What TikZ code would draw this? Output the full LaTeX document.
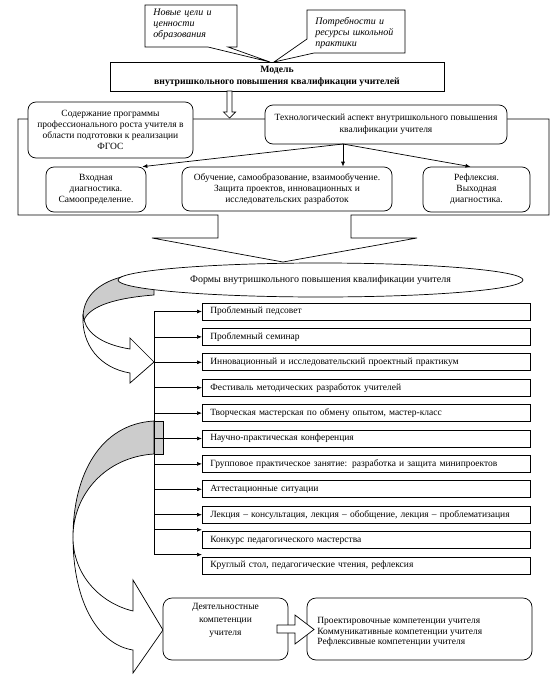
\documentclass[tikz,border=0pt]{standalone}
\usepackage{fontspec}
\setmainfont{Liberation Serif}
\usetikzlibrary{shapes.geometric,arrows.meta,positioning}

\begin{document}
\begin{tikzpicture}[x=1pt,y=-1pt,line width=0.7pt,
    txt/.style={font=\fontsize{9.5}{11}\selectfont},
    rbox/.style={draw, fill=white, rounded corners=8pt, align=center, inner sep=2pt, txt},
    calltxt/.style={align=left, text width=78pt, inner sep=0pt, font=\fontsize{10}{11}\selectfont\itshape},
    fbox/.style={draw, fill=white, anchor=west, text width=312pt, inner xsep=8pt, minimum height=17pt, inner ysep=0pt, align=left, txt},
    arr/.style={-{Latex[length=5pt,width=4pt]}},
    band/.style={draw, fill=black!20},
    hollow/.style={draw, fill=white}]
    \useasboundingbox (0,0) rectangle (555,675);

    % Big frame with the arrow down
    \draw (18,119) -- (549,119) -- (549,215) -- (351,215) -- (351,238) -- (417,238) -- (283,262)
          -- (152,238) -- (218,238) -- (218,215) -- (18,215) -- cycle;

    % Model and callouts
    \node[draw, fill=white, minimum width=334pt, minimum height=29pt, inner sep=0pt, align=center,
          font=\fontsize{9.7}{12}\selectfont\bfseries] (model) at (277,76.5)
          {Модель\\внутришкольного повышения квалификации учителей};
    \coordinate (tipA) at (270,62);
    \coordinate (tipB) at (274,62);
    \draw[fill=white] (145,5) -- (237,5) -- (237,47) -- (228,47) -- (tipA) -- (208,47) -- (145,47) -- cycle;
    \node[calltxt, anchor=north west] (goals) at (153,9) {Новые цели и\\ценности\\образования};
    \draw[fill=white] (307,10) -- (405,10) -- (405,53) -- (314,53) -- (tipB) -- (307,39) -- cycle;
    \node[calltxt, anchor=north west] (needs) at (315,17) {Потребности и\\ресурсы школьной\\практики};
    \draw[hollow] (227,91) -- (227,112) -- (223.5,112) -- (229.5,118) -- (235.5,112) -- (232,112) -- (232,91) -- cycle;

    % Content and technology
    \node[rbox, minimum width=165pt, minimum height=56pt] (content) at (110.5,130)
          {Содержание программы\\профессионального роста учителя в\\области подготовки к реализации\\ФГОС};
    \node[rbox, minimum width=242pt, minimum height=39pt, font=\fontsize{9.5}{12.5}\selectfont] (tech) at (386,124.5)
          {Технологический аспект внутришкольного повышения\\квалификации учителя};
    \node[rbox, minimum width=100pt, minimum height=45pt] (vhod) at (96,189.5)
          {Входная\\диагностика.\\Самоопределение.};
    \node[rbox, minimum width=210pt, minimum height=44pt] (obuch) at (287,189)
          {Обучение, самообразование, взаимообучение.\\Защита проектов, инновационных и\\исследовательских разработок};
    \node[rbox, minimum width=107pt, minimum height=45pt] (refl) at (476.5,189.5)
          {Рефлексия.\\Выходная\\диагностика.};
    \coordinate (fork) at (343,144);
    \draw[arr] (fork) -- ([xshift=-4pt]vhod.north east);
    \draw[arr] (fork) -- (fork |- obuch.north);
    \draw[arr] (fork) -- ([xshift=-6pt]refl.north);

    % Upper curved arrow
    \draw[band] (83,316) .. controls (84,295) and (100,282) .. (125,276) -- (154,276) -- (154,295)
          .. controls (115,298) and (90,306) .. (84,320) -- cycle;
    \draw[hollow] (83,314) .. controls (81,345) and (100,368) .. (130,373) -- (130,383) -- (154,362)
          -- (130,338) -- (130,349) .. controls (105,345) and (88,335) .. (84,320) -- cycle;

    % Forms
    \node[draw, fill=white, ellipse, minimum width=405pt, minimum height=34pt, inner sep=0pt,
          font=\fontsize{10}{12}\selectfont] (formy) at (320.5,280)
          {Формы внутришкольного повышения квалификации учителя};

    % Lower curved arrow
    \draw[band] (154,421) .. controls (100,424) and (73,475) .. (73,537)
          .. controls (73,495) and (105,457) .. (154,454) -- cycle;
    \draw[band] (154,421) rectangle (163,454);
    \draw[hollow] (73,537) .. controls (73,575) and (100,603) .. (133,611) -- (133,580) -- (163,630)
          -- (133,673) -- (133,650) .. controls (100,645) and (73,605) .. (73,537) -- cycle;

    % List of forms
    \foreach \i/\t in {1/{Проблемный педсовет}, 2/{Проблемный семинар},
        3/{Инновационный и исследовательский проектный практикум},
        4/{Фестиваль методических разработок учителей},
        5/{Творческая мастерская по обмену опытом, мастер-класс},
        6/{Научно-практическая конференция},
        7/{Групповое практическое занятие: разработка и защита  минипроектов},
        8/{Аттестационные ситуации},
        9/{Лекция – консультация,  лекция – обобщение, лекция – проблематизация},
        10/{Конкурс педагогического мастерства},
        11/{Круглый стол, педагогические чтения, рефлексия}}
        \node[fbox] (f\i) at (202,{311.5+25.4*(\i-1)}) {\t};
    \coordinate (bus) at (154,0);
    \draw (f1.west -| bus) -- ([yshift=2pt]f11.north west -| bus);
    \foreach \i in {1,...,9}
        \draw[arr] (f\i.west -| bus) -- (f\i.west);
    \draw[arr] ([yshift=1.5pt]f10.north west -| bus) -- ([yshift=1.5pt]f10.north west);
    \draw[arr] ([yshift=2pt]f11.north west -| bus) -- ([yshift=2pt]f11.north west);

    % Competences
    \node[draw, fill=white, rounded corners=9pt, minimum width=125pt, minimum height=62pt] (deyat) at (225.5,629) {};
    \node[below=2pt of deyat.north, align=center, font=\fontsize{9.5}{13}\selectfont] (deyattxt)
          {Деятельностные\\компетенции\\учителя};
    \node[draw, fill=white, rounded corners=9pt, minimum width=225pt, minimum height=62pt] (komp) at (419.5,629) {};
    \node[anchor=west, align=left, inner sep=0pt, font=\fontsize{9.5}{10.5}\selectfont] (komptxt) at (317,632)
          {Проектировочные компетенции  учителя\\Коммуникативные  компетенции учителя\\Рефлексивные компетенции  учителя};
    \draw[hollow] (277,625) -- (295,625) -- (295,615) -- (314,629.5) -- (295,644) -- (295,633) -- (277,633) -- cycle;

\end{tikzpicture}
\end{document}
